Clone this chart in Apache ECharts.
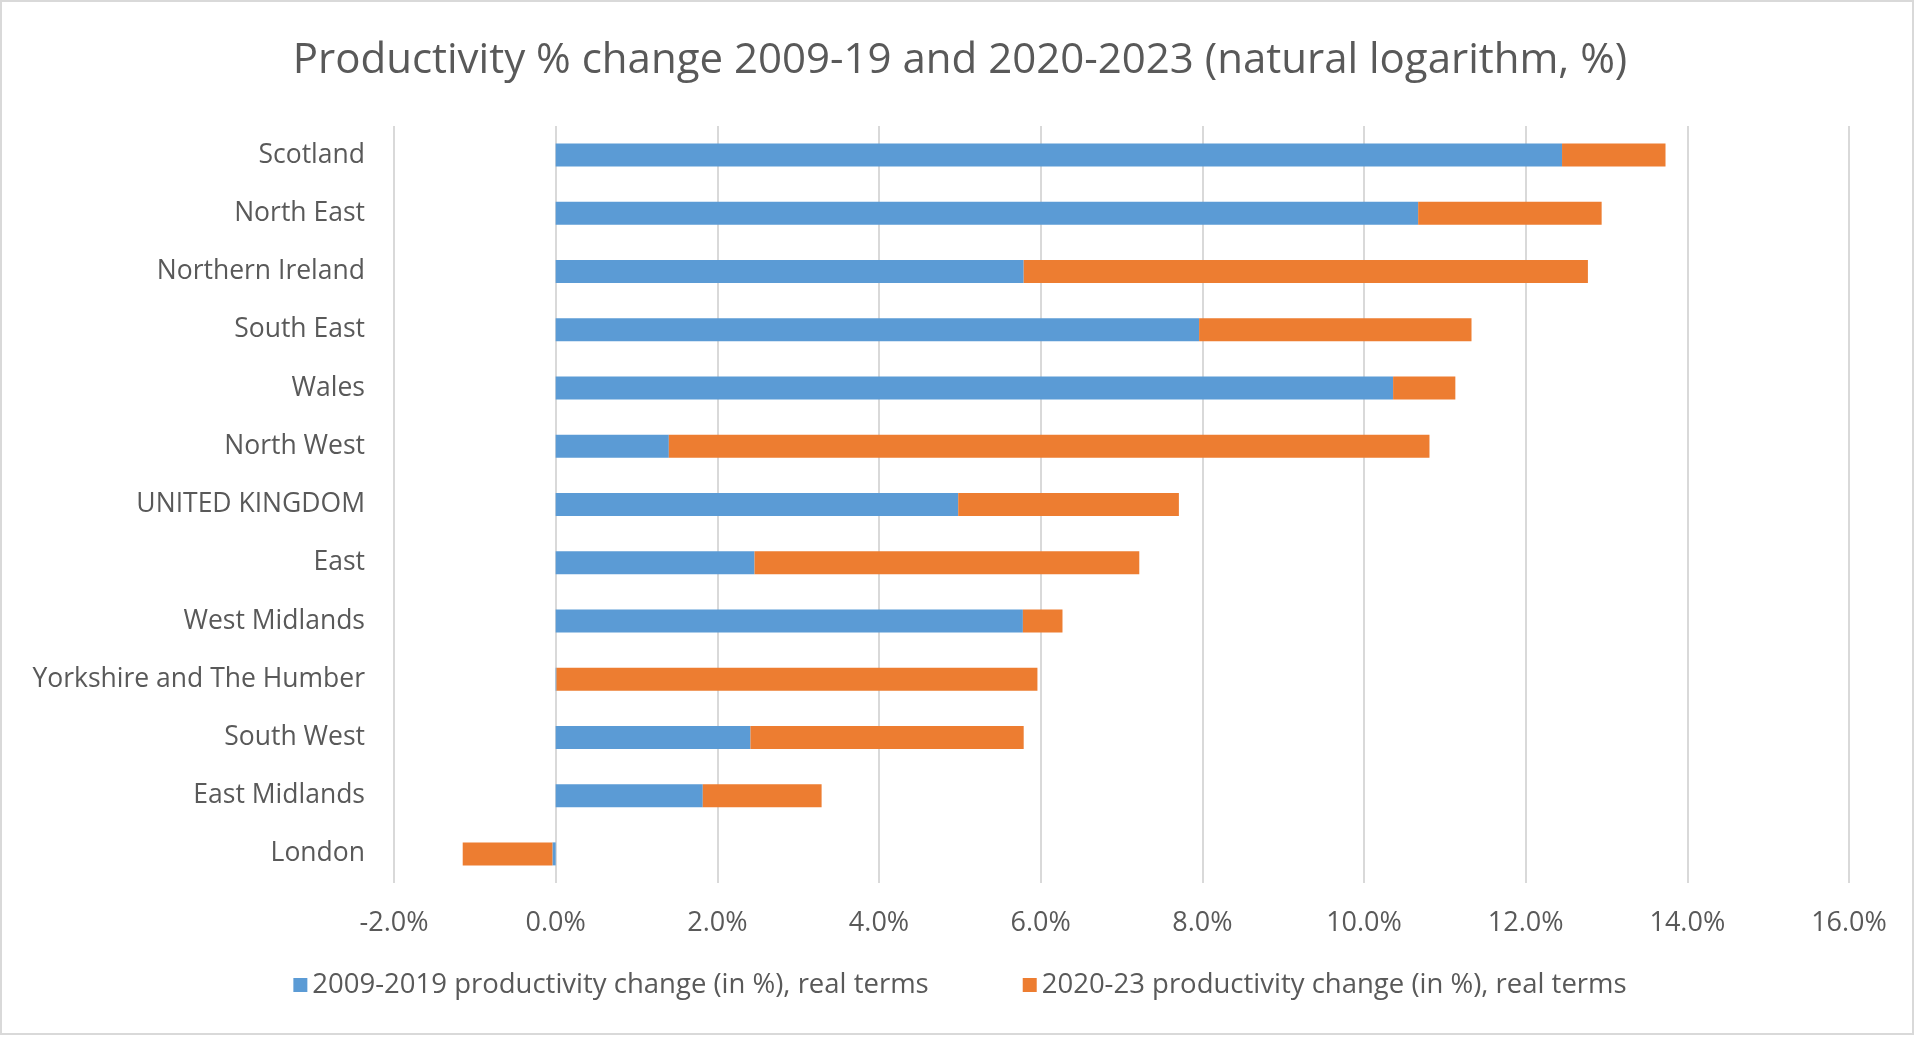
<!DOCTYPE html>
<html>
<head>
<meta charset="utf-8">
<title>Productivity change</title>
<script src="https://cdn.jsdelivr.net/npm/echarts@6/dist/echarts.min.js"></script>
<style>
html, body { margin: 0; padding: 0; background: #fff; }
#chart { width: 1920px; height: 1037px; }
</style>
</head>
<body>
<div id="chart"></div>
<script>
var regions = ['Scotland', 'North East', 'Northern Ireland', 'South East', 'Wales', 'North West',
    'UNITED KINGDOM', 'East', 'West Midlands', 'Yorkshire and The Humber', 'South West',
    'East Midlands', 'London'];
// % change
var change0919 = [12.45, 10.67, 5.79, 7.96, 10.36, 1.40, 4.98, 2.46, 5.78, 0.01, 2.41, 1.82, -0.04];
var change2023 = [1.28, 2.27, 6.98, 3.37, 0.77, 9.41, 2.73, 4.76, 0.49, 5.95, 3.38, 1.47, -1.11];
var seriesNames = ['2009-2019 productivity change (in %), real terms',
    '2020-23 productivity change (in %), real terms'];

var textColor = '#595959';
var fontName = 'Open Sans';

var chart = echarts.init(document.getElementById('chart'));
var option = {
    backgroundColor: '#fff',
    animation: false,
    textStyle: { fontFamily: fontName, color: textColor },
    title: {
        text: 'Productivity % change 2009-19 and 2020-2023 (natural logarithm, %)',
        left: 'center',
        top: 35,
        textStyle: { fontFamily: fontName, fontSize: 42, fontWeight: 'normal', color: textColor }
    },
    graphic: [{
        type: 'rect',
        shape: { x: 1, y: 1, width: 1912, height: 1033 },
        style: { fill: 'none', stroke: '#d9d9d9', lineWidth: 2 },
        silent: true
    }],
    legend: {
        bottom: 33,
        left: 'center',
        itemWidth: 14,
        itemHeight: 14,
        itemGap: 94,
        icon: 'rect',
        textStyle: { fontFamily: fontName, fontSize: 27.5, color: textColor },
        data: seriesNames
    },
    grid: { left: 394, right: 71, top: 126, bottom: 154, containLabel: false },
    xAxis: {
        type: 'value',
        min: -2,
        max: 16,
        interval: 2,
        axisLine: { show: false },
        axisTick: { show: false },
        axisLabel: {
            margin: 27,
            fontFamily: fontName,
            fontSize: 27,
            color: textColor,
            formatter: function (v) { return v.toFixed(1) + '%'; }
        },
        splitLine: { show: true, lineStyle: { color: '#d9d9d9', width: 2 } }
    },
    yAxis: {
        type: 'category',
        inverse: true,
        data: regions,
        axisLine: { show: false },
        axisTick: { show: false },
        axisLabel: { margin: 29, fontFamily: fontName, fontSize: 26.5, color: textColor }
    },
    series: [{
        name: seriesNames[0],
        type: 'bar',
        stack: 'total',
        barWidth: 23,
        itemStyle: { color: '#5b9bd5' },
        data: change0919
    }, {
        name: seriesNames[1],
        type: 'bar',
        stack: 'total',
        barWidth: 23,
        itemStyle: { color: '#ed7d31' },
        data: change2023
    }]
};
chart.setOption(option);
</script>
</body>
</html>
